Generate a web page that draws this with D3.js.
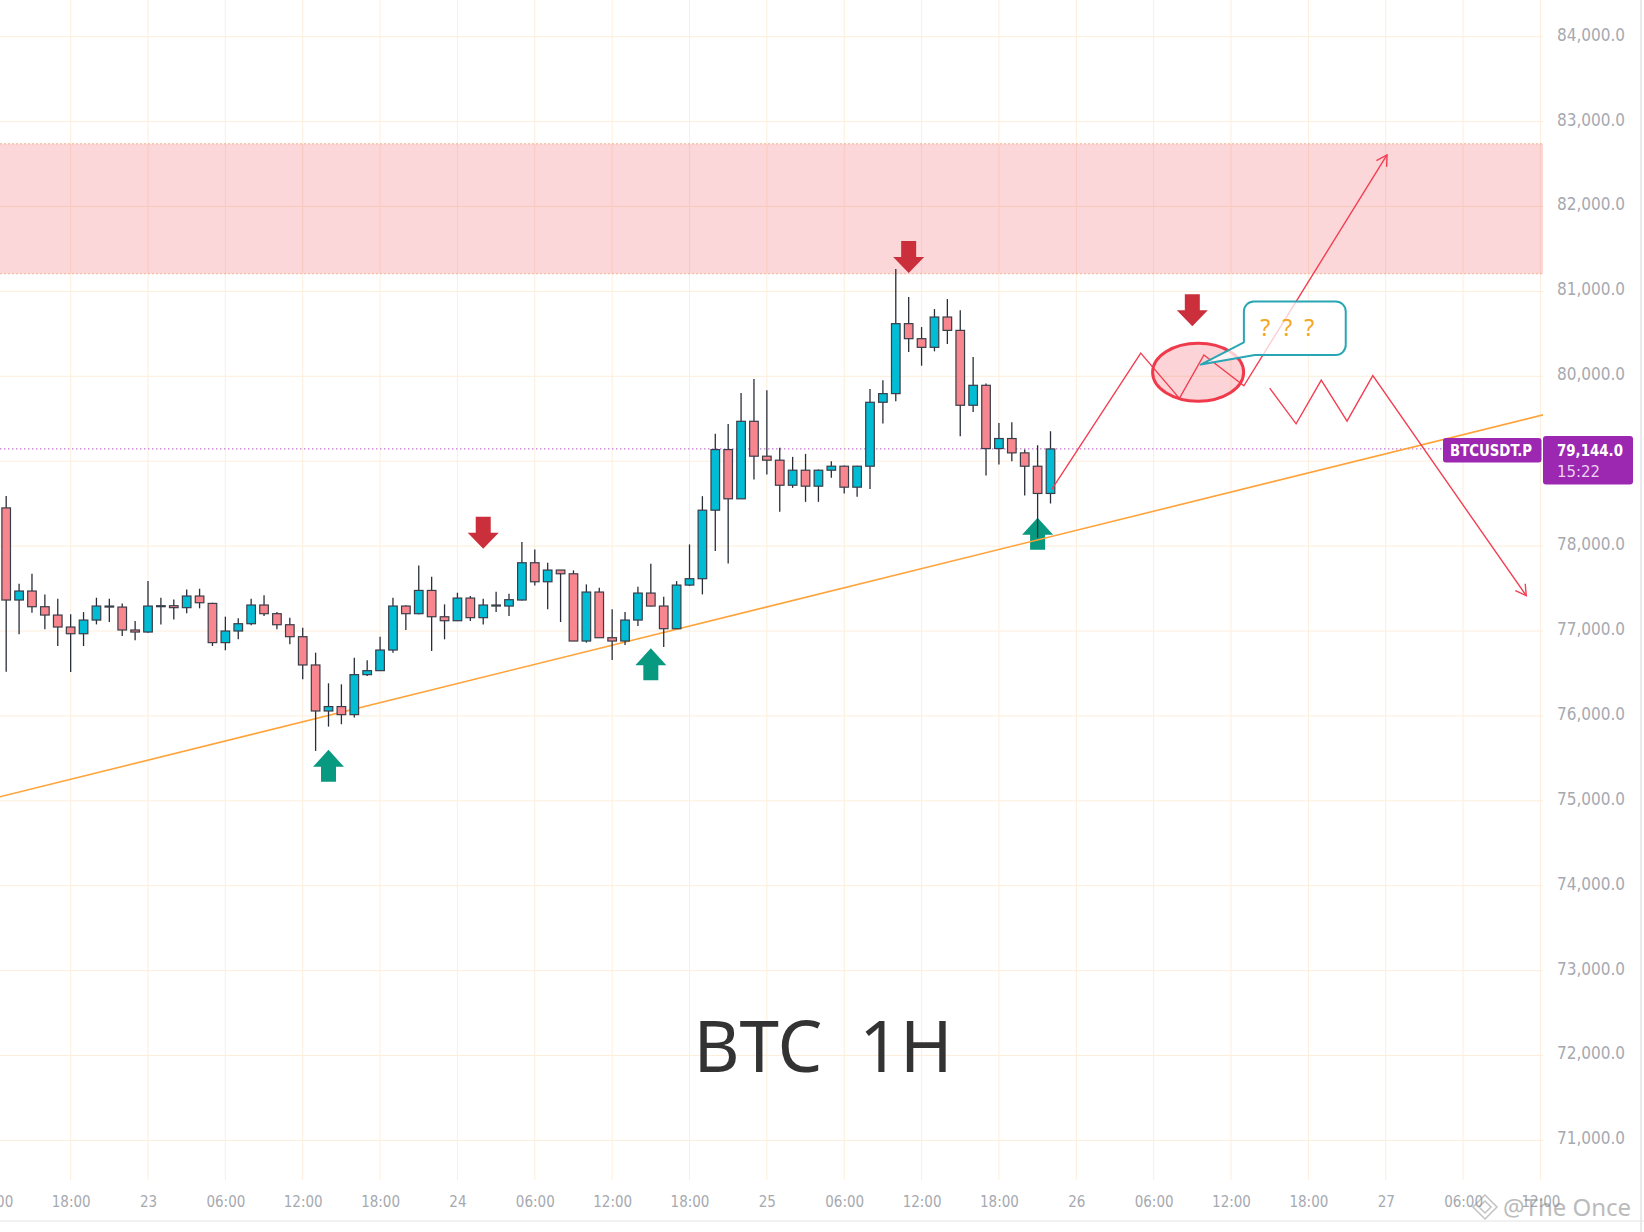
<!DOCTYPE html>
<html>
<head>
<meta charset="utf-8">
<script src="https://cdn.jsdelivr.net/npm/d3@7"></script>
<style>
  body { margin: 0; background: #fff; }
  svg { display: block; }
  .ax text { font-family: "DejaVu Sans Condensed", "DejaVu Sans", sans-serif; font-stretch: condensed; fill: #a6a9b0; }
</style>
</head>
<body>
<svg id="chart" width="1644" height="1232"></svg>
<script>
// hourly candles, first one at 22nd 13:00
const opens = [78450,77365,77471,77286,77188,77047,76968,77129,77294,77282,
  77012,76988,77294,77298,77275,77412,77325,76863,77000,77086,
  77306,77204,77074,76933,76600,76058,76110,76015,76486,76533,
  76776,77294,77204,77478,77168,77121,77388,77157,77306,77294,
  77365,77804,77580,77718,77674,76882,77459,76921,76882,77129,
  77447,77294,77027,77541,77616,78423,79137,78557,79470,79059,
  79012,78717,78894,78706,78894,78941,78694,78941,79694,79796,
  80620,80443,80341,80698,80541,79659,79894,79149,79267,79098,
  78941,78620];
const highs = [78590,77557,77674,77431,77380,77196,77223,77392,77380,77325,
  77118,77588,77392,77372,77490,77498,77333,77169,77149,77380,
  77420,77223,77157,77039,76745,76384,76372,76686,76655,76933,
  77392,77302,77772,77639,77314,77451,77412,77380,77463,77439,
  78047,77961,77804,77718,77714,77549,77510,77255,77223,77521,
  77792,77404,77588,78020,78588,79322,79439,79804,79969,79835,
  79157,79051,79086,78902,78999,78949,78945,79851,79953,81263,
  80933,80580,80792,80910,80777,80228,79914,79451,79459,79137,
  79188,79353];
const lows = [76520,76961,77216,77020,76823,76517,76823,77078,77106,76941,
  76890,76980,77078,77137,77208,77267,76823,76773,76902,77067,
  77176,77020,76843,76431,75588,75874,75902,75980,76470,76529,
  76745,77012,77196,76765,76902,77117,77117,77078,77223,77176,
  77360,77537,77255,77106,76882,76863,76921,76659,76835,77059,
  77290,76812,77027,77529,77431,77941,77796,78557,78784,78843,
  78404,78686,78521,78521,78804,78620,78580,78674,79443,79706,
  80286,80125,80294,80380,79294,79580,78831,78961,78999,78596,
  78098,78502];
const closes = [77365,77471,77286,77188,77047,76968,77129,77294,77290,77012,
  76988,77294,77298,77275,77412,77333,76863,77000,77086,77306,
  77204,77074,76933,76600,76058,76110,76015,76486,76533,76776,
  77294,77204,77478,77168,77121,77388,77157,77306,77300,77369,
  77804,77580,77718,77674,76882,77459,76921,76882,77129,77447,
  77294,77027,77541,77616,78423,79137,78557,79470,79059,79012,
  78717,78894,78706,78894,78941,78694,78941,79694,79796,80620,
  80443,80341,80698,80541,79659,79894,79149,79267,79098,78941,
  78620,79144];

const priceTicks = [71000,72000,73000,74000,75000,76000,77000,78000,79000,80000,81000,82000,83000,84000];
const lastPrice = 79144;
const symbol = "BTCUSDT.P";
const countdown = "15:22";
const title = "BTC  1H";

// drawings, [hours after 22nd 12:00, price]
const zone = [81208, 82738];
const trendLine = [[0, 75028], [121, 79576]];
const pathUp = [[82.1,78667],[89.0,80273],[92.0,79740],[93.9,80251],[97.0,79888],[108.1,82608]];
const pathDown = [[99.0,79860],[101.05,79440],[103.0,79954],[105.0,79472],[107.0,80008],[118.9,77416]];
const upArrows = [[26, 75600], [51, 76796], [81, 78334]];
const downArrows = [[38, 77969], [71, 81216], [93, 80588]];
const circle = {h: 93.45, p: 80047, dh: 3.53, dp: 341};
const bubble = {h1: 97.0, h2: 104.9, p1: 80882, p2: 80250, tip: [93.65, 80138], sideP: 80400, baseH: 97.85, text: "? ? ?"};

const T0 = Date.UTC(2025, 10, 22, 12);
const HOUR = 3600e3;
const at = h => new Date(T0 + h * HOUR);

const candles = opens.map((o, i) => ({t: at(i + 1), o, h: highs[i], l: lows[i], c: closes[i]}));

const plotW = 1543, plotH = 1180;
const svg = d3.select("#chart");
svg.append("rect").attr("width", 1644).attr("height", 1232).attr("fill", "#fff");

const x = d3.scaleUtc().domain([at(0.52), at(120.2)]).range([0, plotW]);
const y = d3.scaleLinear().domain([70534, 84432]).range([plotH, 0]);
const X = h => x(at(h));

svg.append("defs").append("clipPath").attr("id", "plot")
  .append("rect").attr("width", plotW).attr("height", plotH);

const timeTicks = d3.utcHour.every(6).range(at(0), at(120.5));

// grid
const grid = svg.append("g").attr("stroke", "#fdeedb").attr("stroke-width", 1);
grid.selectAll("line.h").data(priceTicks).join("line").attr("class", "h")
  .attr("x1", 0).attr("x2", plotW).attr("y1", d => y(d)).attr("y2", d => y(d));
grid.selectAll("line.v").data(timeTicks).join("line").attr("class", "v")
  .attr("x1", d => x(d)).attr("x2", d => x(d)).attr("y1", 0).attr("y2", plotH);

const plot = svg.append("g").attr("clip-path", "url(#plot)");

// resistance zone
plot.append("rect")
  .attr("x", 0).attr("width", plotW)
  .attr("y", y(zone[1])).attr("height", y(zone[0]) - y(zone[1]))
  .attr("fill", "#f23645").attr("fill-opacity", 0.2);
plot.selectAll("line.zb").data(zone).join("line").attr("class", "zb")
  .attr("x1", 0).attr("x2", plotW).attr("y1", d => y(d)).attr("y2", d => y(d))
  .attr("stroke", "#f7b08a").attr("stroke-width", 1).attr("stroke-dasharray", "2,2");

// last price line
plot.append("line")
  .attr("x1", 0).attr("x2", plotW).attr("y1", y(lastPrice)).attr("y2", y(lastPrice))
  .attr("stroke", "#c27bd0").attr("stroke-width", 1.2).attr("stroke-dasharray", "1.5,2.5");

// arrows
const upShape = "M0,0 L15.5,17 L7.5,17 L7.5,32 L-7.5,32 L-7.5,17 L-15.5,17 Z";
const downShape = "M0,0 L15.5,-16 L7.5,-16 L7.5,-32 L-7.5,-32 L-7.5,-16 L-15.5,-16 Z";
plot.selectAll("path.ua").data(upArrows).join("path").attr("class", "ua")
  .attr("d", upShape).attr("fill", "#089981")
  .attr("transform", d => `translate(${X(d[0])},${y(d[1])})`);
plot.selectAll("path.da").data(downArrows).join("path").attr("class", "da")
  .attr("d", downShape).attr("fill", "#cc2f3c")
  .attr("transform", d => `translate(${X(d[0])},${y(d[1])})`);

// trend line
plot.append("line")
  .attr("x1", X(trendLine[0][0])).attr("y1", y(trendLine[0][1]))
  .attr("x2", X(trendLine[1][0])).attr("y2", y(trendLine[1][1]))
  .attr("stroke", "#ffa33a").attr("stroke-width", 1.6);

// candles
const bw = 8.6;
const cg = plot.append("g");
cg.selectAll("line.wick").data(candles).join("line").attr("class", "wick")
  .attr("x1", d => x(d.t)).attr("x2", d => x(d.t))
  .attr("y1", d => y(d.h)).attr("y2", d => y(d.l))
  .attr("stroke", "#2a2e39").attr("stroke-width", 1.3);
cg.selectAll("rect.body").data(candles).join("rect").attr("class", "body")
  .attr("x", d => x(d.t) - bw / 2).attr("width", bw)
  .attr("y", d => y(Math.max(d.o, d.c)))
  .attr("height", d => Math.max(1, Math.abs(y(d.o) - y(d.c))))
  .attr("fill", d => d.c >= d.o ? "#00bcd4" : "#f7868f")
  .attr("stroke", "#3a3e48").attr("stroke-width", 1.2);

// projection paths
const line = d3.line().x(d => X(d[0])).y(d => y(d[1]));
const red = "#f23f52";
function arrowHead(pts) {
  const a = pts[pts.length - 2], b = pts[pts.length - 1];
  const x1 = X(a[0]), y1 = y(a[1]), x2 = X(b[0]), y2 = y(b[1]);
  const ang = Math.atan2(y2 - y1, x2 - x1);
  const L = 12, s = Math.PI / 6;
  return `M${x2 - L * Math.cos(ang - s)},${y2 - L * Math.sin(ang - s)} L${x2},${y2} L${x2 - L * Math.cos(ang + s)},${y2 - L * Math.sin(ang + s)}`;
}
[pathUp, pathDown].forEach(p => {
  plot.append("path").attr("d", line(p)).attr("fill", "none")
    .attr("stroke", red).attr("stroke-width", 1.4);
  plot.append("path").attr("d", arrowHead(p)).attr("fill", "none")
    .attr("stroke", red).attr("stroke-width", 1.4);
});

// circle
plot.append("ellipse")
  .attr("cx", X(circle.h)).attr("cy", y(circle.p))
  .attr("rx", X(circle.h + circle.dh) - X(circle.h))
  .attr("ry", y(circle.p - circle.dp) - y(circle.p))
  .attr("fill", "#f23645").attr("fill-opacity", 0.22)
  .attr("stroke", "#ef3a4c").attr("stroke-width", 3);

// speech bubble
{
  const x1 = X(bubble.h1), x2 = X(bubble.h2), y1 = y(bubble.p1), y2 = y(bubble.p2);
  const r = 10, tx = X(bubble.tip[0]), ty = y(bubble.tip[1]);
  const sy = y(bubble.sideP), bx = X(bubble.baseH);
  const d = `M${x1},${y1 + r} A${r},${r} 0 0 1 ${x1 + r},${y1} L${x2 - r},${y1} A${r},${r} 0 0 1 ${x2},${y1 + r}` +
    ` L${x2},${y2 - r} A${r},${r} 0 0 1 ${x2 - r},${y2} L${bx},${y2} L${tx},${ty} L${x1},${sy} Z`;
  plot.append("path").attr("d", d)
    .attr("fill", "#ffffff").attr("fill-opacity", 0.75)
    .attr("stroke", "#28a6b4").attr("stroke-width", 2).attr("stroke-linejoin", "round");
  plot.append("text")
    .attr("x", (x1 + x2) / 2 - 6).attr("y", (y1 + y2) / 2 + 8)
    .attr("text-anchor", "middle")
    .style("font-family", "'Noto Sans', sans-serif").style("font-size", "23px")
    .style("letter-spacing", "3px").style("white-space", "pre")
    .attr("fill", "#f5a623").text(bubble.text);
}

// axes
const fmtTime = d => d.getUTCHours() === 0 ? d3.utcFormat("%-d")(d) : d3.utcFormat("%H:%M")(d);
const xAxis = svg.append("g").attr("class", "ax").attr("transform", `translate(0,${1196})`)
  .call(d3.axisBottom(x).tickValues(timeTicks).tickFormat(fmtTime).tickSize(0).tickPadding(0));
xAxis.select(".domain").remove();
xAxis.selectAll("text").style("font-size", "15px");

// price labels hidden behind the last-price tag are left out, as on the chart
const py = y(lastPrice);
const labelTicks = priceTicks.filter(p => Math.abs(y(p) - py) > 30);
const yAxis = svg.append("g").attr("class", "ax").attr("transform", `translate(1557,-2)`)
  .call(d3.axisRight(y).tickValues(labelTicks).tickFormat(d3.format(",.1f")).tickSize(0).tickPadding(0));
yAxis.select(".domain").remove();
yAxis.selectAll("text").style("font-size", "17px");

// frame lines
svg.append("line").attr("x1", 0).attr("x2", 1644).attr("y1", 1221).attr("y2", 1221)
  .attr("stroke", "#ececec").attr("stroke-width", 1.5);
svg.append("line").attr("x1", 1641).attr("x2", 1641).attr("y1", 0).attr("y2", 1232)
  .attr("stroke", "#e3e3e3").attr("stroke-width", 1.5);

// last price labels
const lab = svg.append("g").style("font-family", "'DejaVu Sans Condensed','DejaVu Sans',sans-serif");
lab.append("rect").attr("x", 1443).attr("y", py - 11).attr("width", 98.5).attr("height", 24.5).attr("rx", 3).attr("fill", "#9c27b0");
lab.append("text").attr("x", 1450).attr("y", py + 7)
  .attr("textLength", 82).attr("lengthAdjust", "spacingAndGlyphs")
  .attr("fill", "#fff").style("font-size", "16px").style("font-weight", "600").text(symbol);
lab.append("rect").attr("x", 1543).attr("y", py - 13).attr("width", 90).attr("height", 48.5).attr("rx", 3).attr("fill", "#9c27b0");
lab.append("text").attr("x", 1557).attr("y", py + 7)
  .attr("textLength", 66).attr("lengthAdjust", "spacingAndGlyphs")
  .attr("fill", "#fff").style("font-size", "16px").style("font-weight", "600").text(d3.format(",.1f")(lastPrice));
lab.append("text").attr("x", 1557).attr("y", py + 28)
  .attr("textLength", 43).attr("lengthAdjust", "spacingAndGlyphs")
  .attr("fill", "#ead2f0").style("font-size", "16px").text(countdown);

// title
svg.append("text").attr("x", 823).attr("y", 1071.5).attr("text-anchor", "middle")
  .style("font-family", "'Noto Sans', 'Open Sans', sans-serif").style("font-size", "71px")
  .style("white-space", "pre").attr("fill", "#333").text(title);

// watermark
const wm = svg.append("g").attr("opacity", 0.6);
wm.append("path").attr("d", "M1485,1195 L1497,1207 L1485,1219 L1473,1207 Z M1485,1201 L1491,1207 L1485,1213 L1479,1207 Z")
  .attr("fill", "none").attr("stroke", "#9a9a9a").attr("stroke-width", 1.5);
wm.append("text").attr("x", 1503).attr("y", 1216)
  .style("font-family", "'Noto Sans', sans-serif").style("font-size", "24px")
  .attr("fill", "#8f8f8f").text("@The Once");
</script>
</body>
</html>
